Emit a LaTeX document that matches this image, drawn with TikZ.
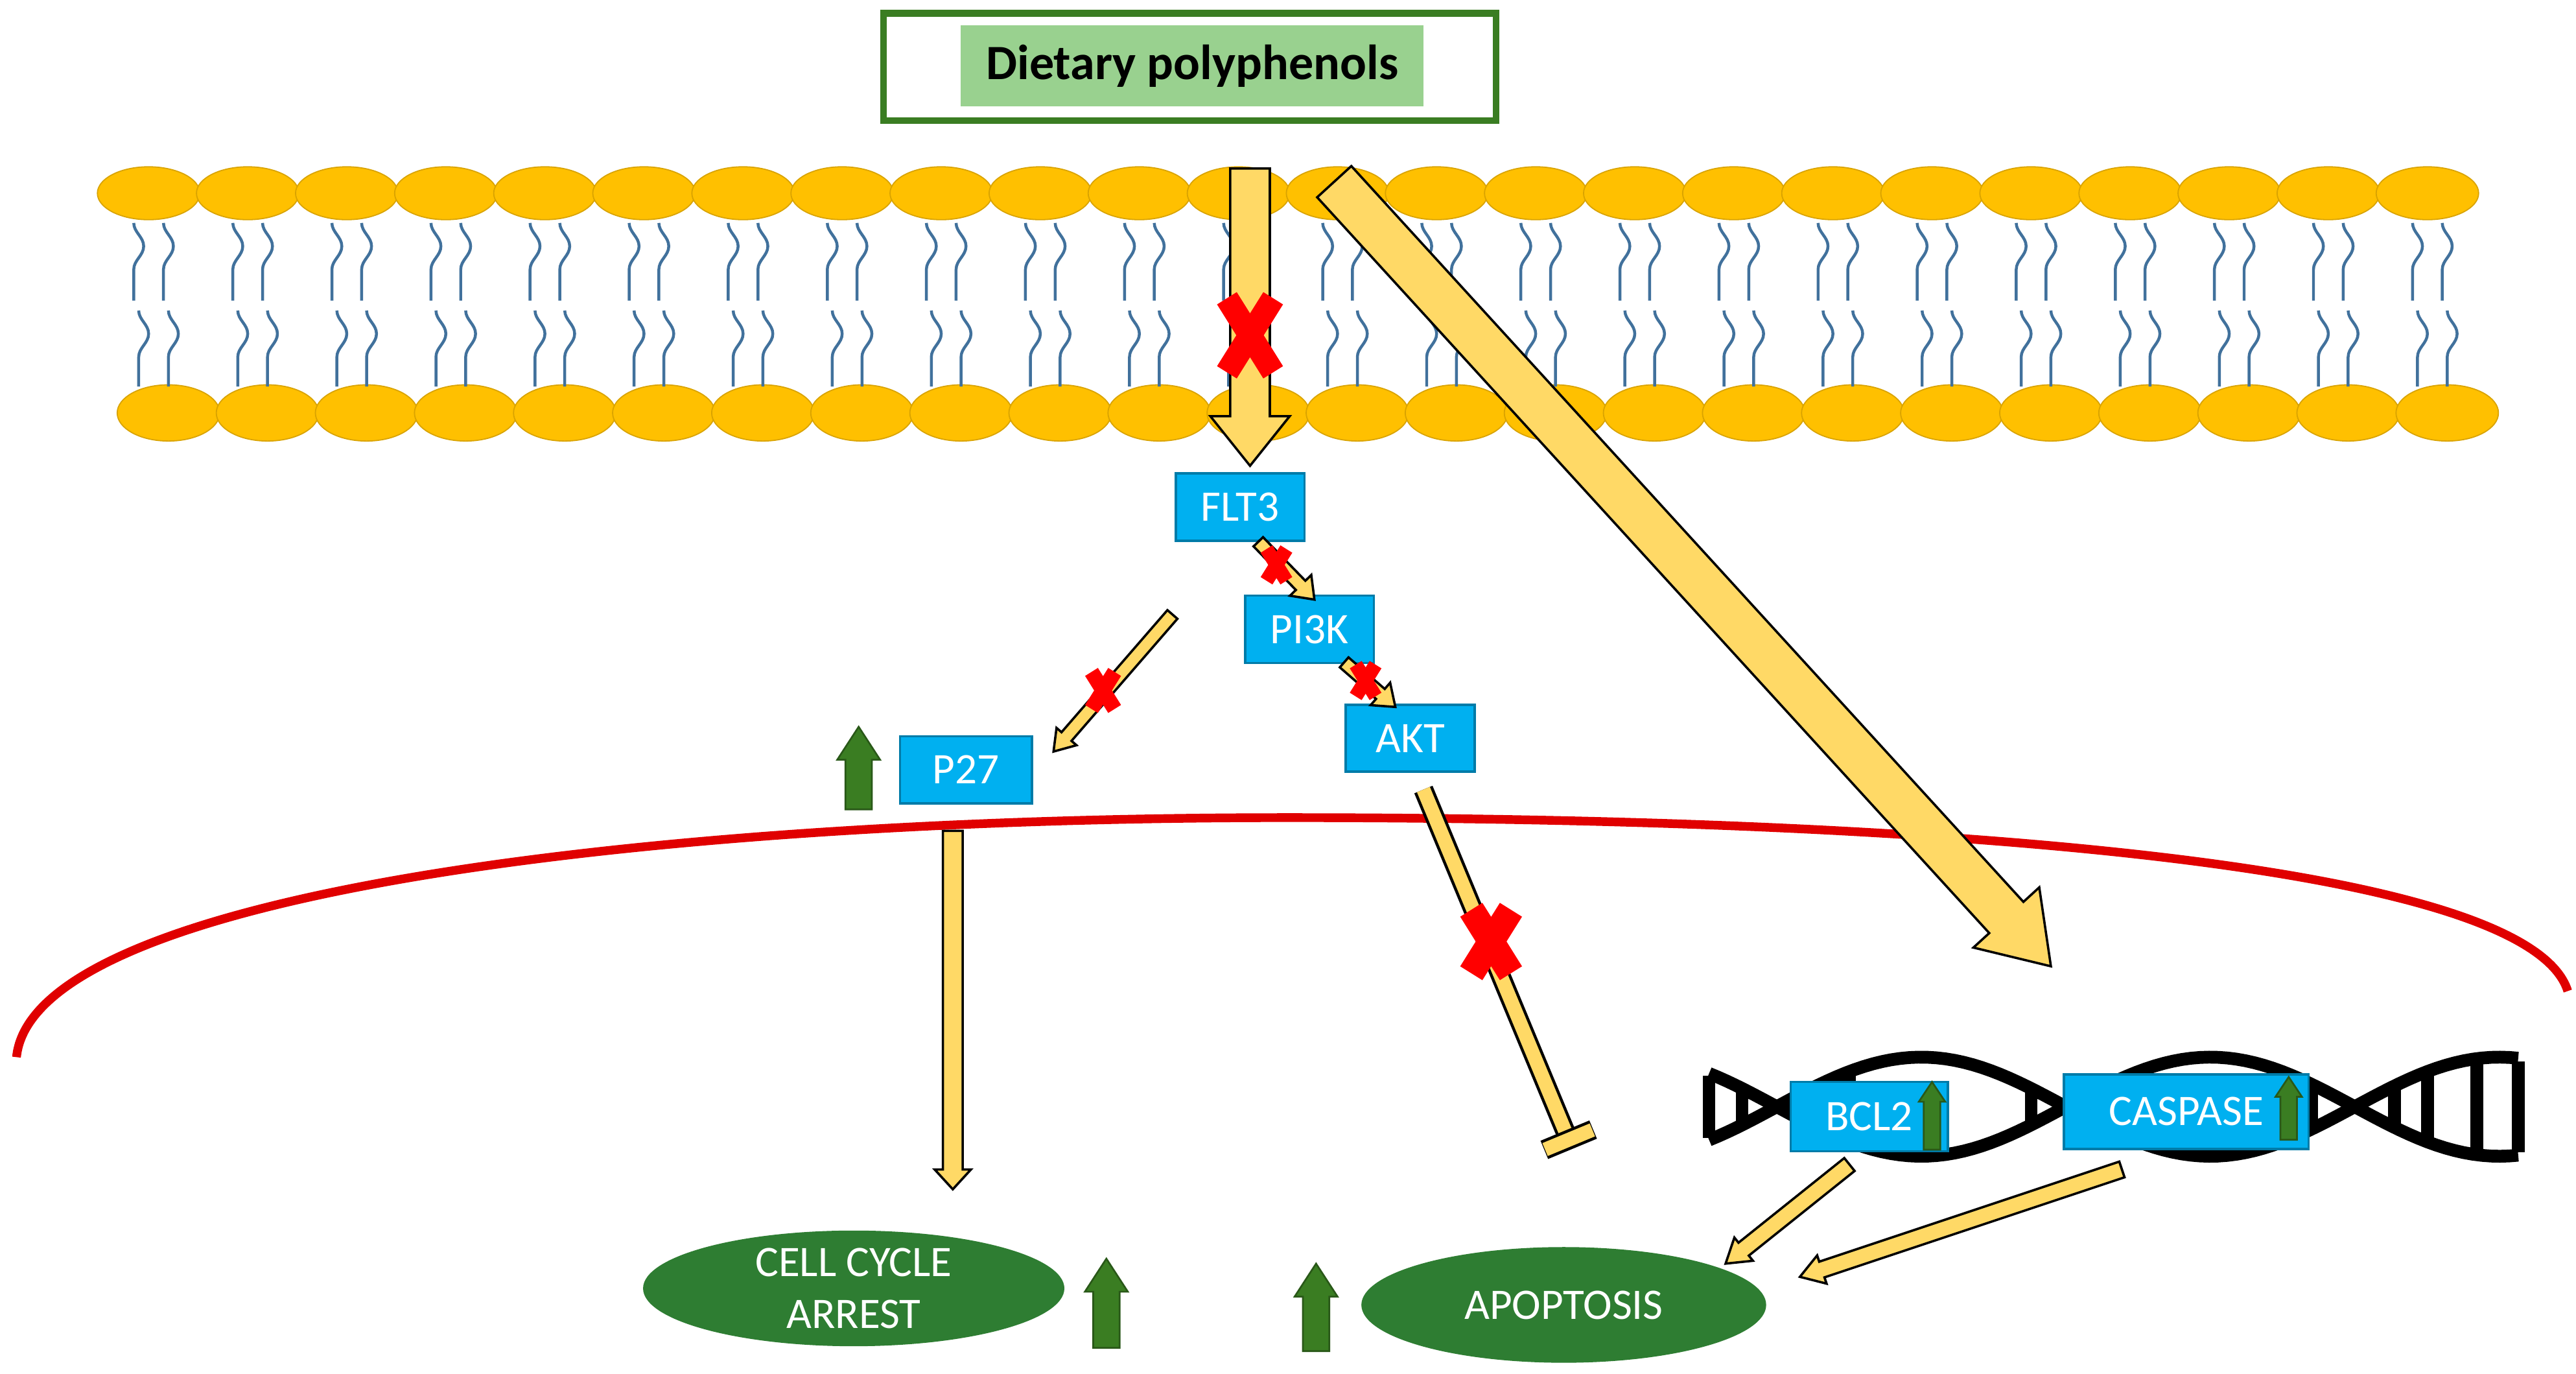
\documentclass[tikz,border=0pt]{standalone}
\usepackage{fontspec}
\setmainfont{Carlito}
\usetikzlibrary{calc,positioning,shapes.geometric,decorations.pathmorphing}
\definecolor{lipid}{HTML}{FFC000}
\definecolor{tailc}{HTML}{41719C}
\definecolor{arrowy}{HTML}{FFD966}
\definecolor{protein}{HTML}{00B0F0}
\definecolor{darkg}{HTML}{2E7D32}
\definecolor{upg}{HTML}{3A7D22}
\definecolor{boxg}{HTML}{99D18F}
\definecolor{nucred}{HTML}{E00000}
\tikzset{
  prot/.style={rectangle, draw=protein!70!black, fill=protein, text=white, minimum width=0.78cm, minimum height=0.4cm, font=\fontsize{7.5}{8}\selectfont},
  outcome/.style={ellipse, fill=darkg, text=white, inner sep=0pt, minimum width=2.5cm, minimum height=0.7cm, align=center, font=\fontsize{7.5}{9}\selectfont},
  yarrow/.style={fill=arrowy, draw=black, line width=0.4pt},
  garrow/.style={fill=upg, draw=upg!70!black, line width=0.3pt},
  tail/.style={tailc, line width=0.5pt, decorate, decoration={snake, segment length=0.45cm, amplitude=0.06cm}},
}
% block arrow: [style]{from}{to}{half shaft}{half head}{head length}
\newcommand{\blockarrow}[6][yarrow]{%
  \coordinate (bh) at ($(#3)!#6!(#2)$);
  \draw[#1] ($(#2)!#4!90:(#3)$) -- ($(bh)!#4!-90:(#2)$) -- ($(bh)!#5!-90:(#2)$) -- (#3)
    -- ($(bh)!#5!90:(#2)$) -- ($(bh)!#4!90:(#2)$) -- ($(#2)!#4!-90:(#3)$) -- cycle;}
% red cross
\newcommand{\redx}[3]{%
  \draw[red, line width=#3, line cap=butt] ($(#1)+(-#2,#2*1.6)$) -- ($(#1)+(#2,-#2*1.6)$)
    ($(#1)+(#2,#2*1.6)$) -- ($(#1)+(-#2,-#2*1.6)$);}

\begin{document}
\begin{tikzpicture}[x=0.01cm, y=-0.01cm]
  \useasboundingbox (0,0) rectangle (1560,831.5);

  %% membrane
  \foreach \i in {0,...,23} {
    \filldraw[fill=lipid, draw=lipid!85!black, line width=0.2pt] (90+60*\i,117) ellipse (0.31cm and 0.16cm);
    \filldraw[fill=lipid, draw=lipid!85!black, line width=0.2pt] (102+60*\i,250) ellipse (0.31cm and 0.17cm);
    \foreach \dx in {-9,9} {
      \draw[tail] (90+60*\i+\dx,135) -- (90+60*\i+\dx,182);
      \draw[tail] (93+60*\i+\dx,188) -- (93+60*\i+\dx,234);
    }
  }

  %% nuclear envelope
  \draw[nucred, line width=1.5pt] (10,640) .. controls (20,540) and (400,495) .. (780,495)
    .. controls (1150,495) and (1530,520) .. (1555,600);

  %% top box
  \draw[upg, line width=1.2pt] (535,8) rectangle (906,73);
  \node[fill=boxg, minimum width=2.8cm, minimum height=0.44cm, font=\bfseries\fontsize{8.5}{10}\selectfont] (poly) at (722,40) {Dietary polyphenols};

  %% DNA
  \begin{scope}[line width=2.2pt]
    \draw plot[domain=1035:1525, samples=90] (\x, {670+30*sin((\x-1076)*1.0286)});
    \draw plot[domain=1035:1525, samples=90] (\x, {670-30*sin((\x-1076)*1.0286)});
    \foreach \r in {1035,1055,1100,1120,1230,1275,1300,1400,1450,1470,1500,1525}
      \draw (\r, {670+28*sin((\r-1076)*1.0286)}) -- (\r, {670-28*sin((\r-1076)*1.0286)});
  \end{scope}

  %% proteins
  \node[prot] (flt) at (751,307) {FLT3};
  \node[prot] (pik) at (793,381) {PI3K};
  \node[prot] (akt) at (854,447) {AKT};
  \node[prot, minimum width=0.8cm] (p27) at (585,466) {P27};
  \node[prot, minimum width=0.95cm, minimum height=0.42cm] (bcl) at (1132,676) {BCL2\hspace{0.3cm}};
  \node[prot, minimum width=1.48cm, minimum height=0.45cm] (casp) at (1324,673) {CASPASE\hspace{0.25cm}};

  %% outcomes
  \node[outcome, minimum width=2.55cm] (arrest) at (517,780) {CELL CYCLE\\ARREST};
  \node[outcome, minimum width=2.45cm] (apop) at (947,790) {APOPTOSIS};

  %% arrows
  \coordinate (m1) at (757,102);   \coordinate (m2) at (757,282);
  \blockarrow{m1}{m2}{0.12cm}{0.24cm}{0.3cm}
  \redx{757,203}{0.14cm}{4pt}
  \coordinate (d1) at (808,110);   \coordinate (d2) at (1242,585);
  \blockarrow{d1}{d2}{0.14cm}{0.27cm}{0.4cm}

  \coordinate (f1) at (762,328);   \coordinate (f2) at (796,363);
  \blockarrow{f1}{f2}{0.04cm}{0.09cm}{0.12cm}
  \redx{773,342}{0.06cm}{2.4pt}
  \coordinate (k1) at (814,401);   \coordinate (k2) at (845,428);
  \blockarrow{k1}{k2}{0.04cm}{0.09cm}{0.12cm}
  \redx{827,412}{0.06cm}{2.4pt}
  \coordinate (q1) at (710,372);   \coordinate (q2) at (638,455);
  \blockarrow{q1}{q2}{0.04cm}{0.08cm}{0.12cm}
  \redx{668,418}{0.07cm}{2.6pt}

  \coordinate (p1) at (577,503);   \coordinate (p2) at (577,720);
  \blockarrow{p1}{p2}{0.06cm}{0.11cm}{0.12cm}

  % AKT inhibition
  \coordinate (a1) at (862,478);   \coordinate (a2) at (950,690);
  \draw[black, line width=3.4pt] (a1) -- (a2);
  \draw[arrowy, line width=2.4pt] (a1) -- (a2);
  \draw[black, line width=3.4pt] ($(a2)!0.16cm!90:(a1)$) -- ($(a2)!0.16cm!-90:(a1)$);
  \draw[arrowy, line width=2.4pt] ($(a2)!0.155cm!90:(a1)$) -- ($(a2)!0.155cm!-90:(a1)$);
  \redx{903,570}{0.12cm}{4.5pt}

  \coordinate (b1) at (1120,705);  \coordinate (b2) at (1045,765);
  \blockarrow{b1}{b2}{0.05cm}{0.09cm}{0.14cm}
  \coordinate (c1) at (1285,708);  \coordinate (c2) at (1090,773);
  \blockarrow{c1}{c2}{0.05cm}{0.09cm}{0.14cm}

  %% up-regulation arrows
  \coordinate (u1) at (520,490);   \coordinate (u2) at (520,440);
  \blockarrow[garrow]{u1}{u2}{0.08cm}{0.13cm}{0.2cm}
  \coordinate (u3) at (670,816);   \coordinate (u4) at (670,762);
  \blockarrow[garrow]{u3}{u4}{0.08cm}{0.13cm}{0.2cm}
  \coordinate (u5) at (797,818);   \coordinate (u6) at (797,765);
  \blockarrow[garrow]{u5}{u6}{0.08cm}{0.13cm}{0.2cm}
  \coordinate (u7) at (1170,696);  \coordinate (u8) at (1170,655);
  \blockarrow[garrow]{u7}{u8}{0.05cm}{0.08cm}{0.12cm}
  \coordinate (u9) at (1386,690);  \coordinate (u10) at (1386,652);
  \blockarrow[garrow]{u9}{u10}{0.05cm}{0.08cm}{0.12cm}
\end{tikzpicture}
\end{document}
